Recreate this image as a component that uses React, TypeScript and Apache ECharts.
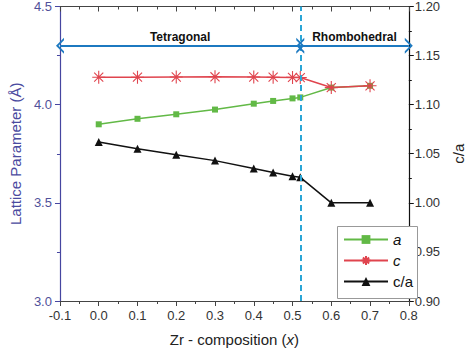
import React, { useEffect, useRef } from "react";
import * as echarts from "echarts";

const xValues = [0, 0.1, 0.2, 0.3, 0.4, 0.45, 0.5, 0.52, 0.6, 0.7];
const aValues = [3.9, 3.928, 3.951, 3.975, 4.005, 4.019, 4.032, 4.037, 4.087, 4.096];
const cValues = [4.14, 4.14, 4.141, 4.142, 4.141, 4.14, 4.139, 4.138, 4.087, 4.096];
const caValues = [1.062, 1.055, 1.049, 1.043, 1.035, 1.031, 1.027, 1.026, 1.0, 1.0];
const boundaryX = 0.52;
const arrowY = 4.3;
const phaseNames = ["Tetragonal", "Rhombohedral"];
const xRange = [-0.1, 0.8];

const FONT = 'Arial, "Liberation Sans", sans-serif';
const chevron = "path://M0,10 L5,0 L10,10 L8.4,10 L5,3.2 L1.6,10 Z";
const asterisk = "path://M5,0 L5,10 M0,5 L10,5 M1.5,1.5 L8.5,8.5 M8.5,1.5 L1.5,8.5";

export default function App() {
  const ref = useRef<HTMLDivElement>(null);
  useEffect(() => {
    const chart = echarts.init(ref.current!, null, { renderer: "svg" });
    const pair = (xs: number[], ys: number[]) => xs.map((x, i) => [x, ys[i]]);
    const arrowColor = "#1c79c0";
    const phaseLabel = (text: string) => ({
      show: true,
      position: "insideMiddleTop",
      formatter: text,
      fontSize: 12,
      fontWeight: "bold",
      color: "#111",
      distance: 3,
    });
    chart.setOption({
      animation: false,
      textStyle: { fontFamily: FONT },
      grid: { left: 54, right: 54, top: 6, bottom: 49 },
      graphic: [
        {
          type: "rect",
          z: 1,
          shape: { x: 337.5, y: 226.5, width: 80, height: 72 },
          style: { fill: "#fff", stroke: "#999", lineWidth: 1 },
        },
      ],
      legend: {
        orient: "vertical",
        left: 343,
        top: 232,
        padding: 0,
        itemGap: 6,
        itemWidth: 44,
        itemHeight: 11,
        z: 5,
        data: ["a", "c", "c/a"],
        formatter: (n: string) => (n === "c/a" ? "{n|c/a}" : `{i|${n}}`),
        textStyle: {
          fontSize: 15,
          fontFamily: FONT,
          color: "#111",
          rich: {
            n: { fontSize: 15, fontFamily: FONT, color: "#111" },
            i: { fontSize: 15, fontFamily: FONT, fontStyle: "italic", color: "#111" },
          },
        },
      },
      xAxis: [
        {
          type: "value",
          min: xRange[0],
          max: xRange[1],
          interval: 0.1,
          name: "{n|Zr - composition (}{i|x}{n|)}",
          nameLocation: "middle",
          nameGap: 31,
          nameTextStyle: {
            rich: {
              n: { fontSize: 15, fontFamily: FONT, color: "#222" },
              i: { fontSize: 15, fontFamily: FONT, fontStyle: "italic", color: "#222" },
            },
          },
          axisLine: { onZero: false, lineStyle: { color: "#444", width: 1.2 } },
          axisTick: { length: 5, lineStyle: { color: "#444" } },
          minorTick: { show: true, splitNumber: 2, length: 3, lineStyle: { color: "#444" } },
          axisLabel: { fontSize: 13, color: "#333", margin: 8, formatter: (v: number) => v.toFixed(1) },
          splitLine: { show: false },
        },
        {
          type: "value",
          position: "top",
          min: xRange[0],
          max: xRange[1],
          interval: 0.1,
          axisLine: { onZero: false, lineStyle: { color: "#444", width: 1.2 } },
          axisTick: { inside: true, length: 5, lineStyle: { color: "#444" } },
          minorTick: { show: true, splitNumber: 2, length: 3, lineStyle: { color: "#444" } },
          axisLabel: { show: false },
          splitLine: { show: false },
        },
      ],
      yAxis: [
        {
          type: "value",
          min: 3.0,
          max: 4.5,
          interval: 0.5,
          name: "Lattice Parameter (Å)",
          nameLocation: "middle",
          nameGap: 36,
          nameTextStyle: { fontSize: 15, color: "#4a4aa0", fontFamily: FONT },
          axisLine: { show: true, onZero: false, lineStyle: { color: "#4646a0", width: 1.2 } },
          axisTick: { length: 5, lineStyle: { color: "#4646a0" } },
          minorTick: { show: true, splitNumber: 2, length: 3, lineStyle: { color: "#4646a0" } },
          axisLabel: { fontSize: 13, color: "#50509a", margin: 8, formatter: (v: number) => v.toFixed(1) },
          splitLine: { show: false },
        },
        {
          type: "value",
          position: "right",
          min: 0.9,
          max: 1.2,
          interval: 0.05,
          name: "c/a",
          nameLocation: "middle",
          nameRotate: 90,
          nameGap: 36,
          nameTextStyle: { fontSize: 15, color: "#222", fontFamily: FONT },
          axisLine: { show: true, onZero: false, lineStyle: { color: "#111", width: 1.2 } },
          axisTick: { length: 5, lineStyle: { color: "#111" } },
          minorTick: { show: true, splitNumber: 2, length: 3, lineStyle: { color: "#111" } },
          axisLabel: { fontSize: 13, color: "#333", margin: 6, formatter: (v: number) => v.toFixed(2) },
          splitLine: { show: false },
        },
      ],
      series: [
        {
          name: "a",
          type: "line",
          xAxisIndex: 0,
          yAxisIndex: 0,
          data: pair(xValues, aValues),
          symbol: "rect",
          symbolSize: 6,
          lineStyle: { color: "#62b946", width: 1.5 },
          itemStyle: { color: "#62b946", borderWidth: 0 },
          z: 2,
          markLine: {
            silent: true,
            animation: false,
            symbol: [chevron, chevron],
            symbolSize: [16, 8],
            label: { show: false },
            data: [
              [
                { coord: [boundaryX, 3.0], symbol: "none" },
                {
                  coord: [boundaryX, 4.5],
                  symbol: "none",
                  lineStyle: { color: "#2aa6d6", width: 2, type: [6, 4] },
                },
              ],
              [
                { coord: [xRange[0], arrowY] },
                {
                  coord: [boundaryX, arrowY],
                  lineStyle: { color: arrowColor, width: 2, type: "solid" },
                  label: phaseLabel(phaseNames[0]),
                },
              ],
              [
                { coord: [boundaryX, arrowY] },
                {
                  coord: [xRange[1], arrowY],
                  lineStyle: { color: arrowColor, width: 2, type: "solid" },
                  label: phaseLabel(phaseNames[1]),
                },
              ],
            ],
          },
        },
        {
          name: "c",
          type: "line",
          xAxisIndex: 0,
          yAxisIndex: 0,
          data: pair(xValues, cValues),
          symbol: asterisk,
          symbolSize: 13,
          lineStyle: { color: "#e0444e", width: 1.5 },
          itemStyle: { color: "#e0444e", borderColor: "#e0444e", borderWidth: 1.1 },
          z: 3,
        },
        {
          name: "c/a",
          type: "line",
          xAxisIndex: 0,
          yAxisIndex: 1,
          data: pair(xValues, caValues),
          symbol: "triangle",
          symbolSize: 8,
          lineStyle: { color: "#111", width: 1.5 },
          itemStyle: { color: "#111", borderWidth: 0 },
          z: 4,
        },
      ],
    });
    return () => chart.dispose();
  }, []);
  return <div ref={ref} style={{ width: 474, height: 352, position: "absolute", left: 0, top: 0 }} />;
}
